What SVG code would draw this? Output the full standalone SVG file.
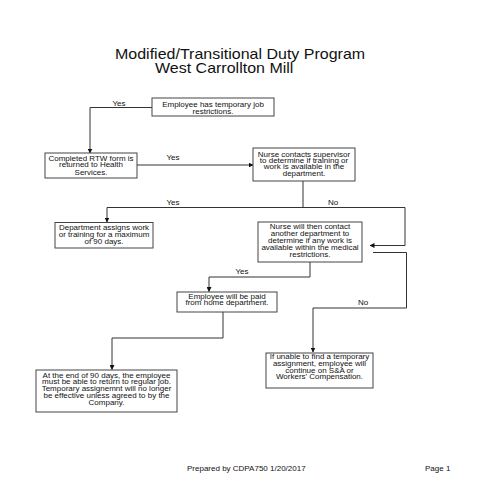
<svg xmlns="http://www.w3.org/2000/svg" width="495" height="495" viewBox="0 0 495 495">
<style>
.box{fill:#fff;stroke:#444;stroke-width:1}
.t{font-family:"Liberation Sans",Arial,sans-serif;font-size:8px;fill:#111;text-anchor:middle}
.lbl{font-family:"Liberation Sans",Arial,sans-serif;font-size:8px;fill:#111;text-anchor:middle}
.title{font-family:"Liberation Sans",Arial,sans-serif;font-size:16px;fill:#111}
.foot{font-family:"Liberation Sans",Arial,sans-serif;font-size:8px;fill:#111}
.c{fill:none;stroke:#333;stroke-width:1}
</style>
<defs>
<marker id="ah" markerWidth="5" markerHeight="5" refX="4.5" refY="2.5" orient="auto" markerUnits="userSpaceOnUse">
<path d="M0,0 L5,2.5 L0,5 Z" fill="#111"/>
</marker>
</defs>
<rect width="495" height="495" fill="#fff"/>
<g id="title">
<text class="title" transform="translate(115,58.5) scale(1,0.9)">Modified/Transitional Duty Program</text>
<text class="title" transform="translate(155,73) scale(1,0.9)">West Carrollton Mill</text>
</g>
<g id="connectors">
<path class="c" d="M152,107.5 H90 V153" marker-end="url(#ah)"/>
<path class="c" d="M137,165 H253" marker-end="url(#ah)"/>
<path class="c" d="M303,181 V207.5"/>
<path class="c" d="M107,207.5 H405"/>
<path class="c" d="M107,207.5 V222" marker-end="url(#ah)"/>
<path class="c" d="M405,207.5 V245.5 H370" marker-end="url(#ah)"/>
<path class="c" d="M373,252.5 H406.5 V308 H313 V352" marker-end="url(#ah)"/>
<path class="c" d="M310,262 V277 H209 V291.5" marker-end="url(#ah)"/>
<path class="c" d="M223,312 V338 H112 V369.5" marker-end="url(#ah)"/>
<text class="lbl" x="119" y="105.5">Yes</text>
<text class="lbl" x="173" y="159.5">Yes</text>
<text class="lbl" x="173" y="205.3">Yes</text>
<text class="lbl" x="333" y="205.3">No</text>
<text class="lbl" x="242" y="274">Yes</text>
<text class="lbl" x="363" y="305">No</text>
</g>
<g id="n1">
<rect class="box" x="152" y="98" width="122" height="18"/>
<text class="t" transform="translate(213,107.3) scale(1,0.8)"><tspan x="0" y="0">Employee has temporary job</tspan><tspan x="0" y="8.4">restrictions.</tspan></text>
</g>
<g id="n2">
<rect class="box" x="45" y="153" width="92" height="25"/>
<text class="t" transform="translate(91,160.6) scale(1,0.8)"><tspan x="0" y="0">Completed RTW form is</tspan><tspan x="0" y="8.6">returned to Health</tspan><tspan x="0" y="17.4">Services.</tspan></text>
</g>
<g id="n3">
<rect class="box" x="253" y="148" width="102" height="33"/>
<text class="t" transform="translate(304,156.5) scale(1,0.8)"><tspan x="0" y="0">Nurse contacts supervisor</tspan><tspan x="0" y="8.1">to determine if training or</tspan><tspan x="0" y="16.2">work is available in the</tspan><tspan x="0" y="24.3">department.</tspan></text>
</g>
<g id="n4">
<rect class="box" x="55" y="222.5" width="98" height="25.5"/>
<text class="t" transform="translate(104,229.7) scale(1,0.8)"><tspan x="0" y="0">Department assigns work</tspan><tspan x="0" y="9">or training for a maximum</tspan><tspan x="0" y="17.9">of 90 days.</tspan></text>
</g>
<g id="n5">
<rect class="box" x="258" y="222" width="104" height="40"/>
<text class="t" transform="translate(310,228.5) scale(1,0.8)"><tspan x="0" y="0">Nurse will then contact</tspan><tspan x="0" y="9">another department to</tspan><tspan x="0" y="18">determine if any work is</tspan><tspan x="0" y="27">available within the medical</tspan><tspan x="0" y="36">restrictions.</tspan></text>
</g>
<g id="n6">
<rect class="box" x="177" y="292" width="100" height="20"/>
<text class="t" transform="translate(227,298.5) scale(1,0.8)"><tspan x="0" y="0">Employee will be paid</tspan><tspan x="0" y="8.4">from home department.</tspan></text>
</g>
<g id="n7">
<rect class="box" x="36" y="370" width="141" height="42"/>
<text class="t" transform="translate(106.5,377.5) scale(1,0.8)"><tspan x="0" y="0">At the end of 90 days, the employee</tspan><tspan x="0" y="8.6">must be able to return to regular job.</tspan><tspan x="0" y="17.2">Temporary assignemnt will no longer</tspan><tspan x="0" y="25.8">be effective unless agreed to by the</tspan><tspan x="0" y="34.4">Company.</tspan></text>
</g>
<g id="n8">
<rect class="box" x="266" y="353" width="107" height="35"/>
<text class="t" transform="translate(319.5,359.2) scale(1,0.8)"><tspan x="0" y="0">If unable to find a temporary</tspan><tspan x="0" y="8.4">assignment, employee will</tspan><tspan x="0" y="16.8">continue on S&amp;A or</tspan><tspan x="0" y="25.2">Workers' Compensation.</tspan></text>
</g>
<g id="footer">
<text class="foot" x="187" y="471">Prepared by CDPA750 1/20/2017</text>
<text class="foot" x="425" y="471">Page 1</text>
</g>
</svg>
